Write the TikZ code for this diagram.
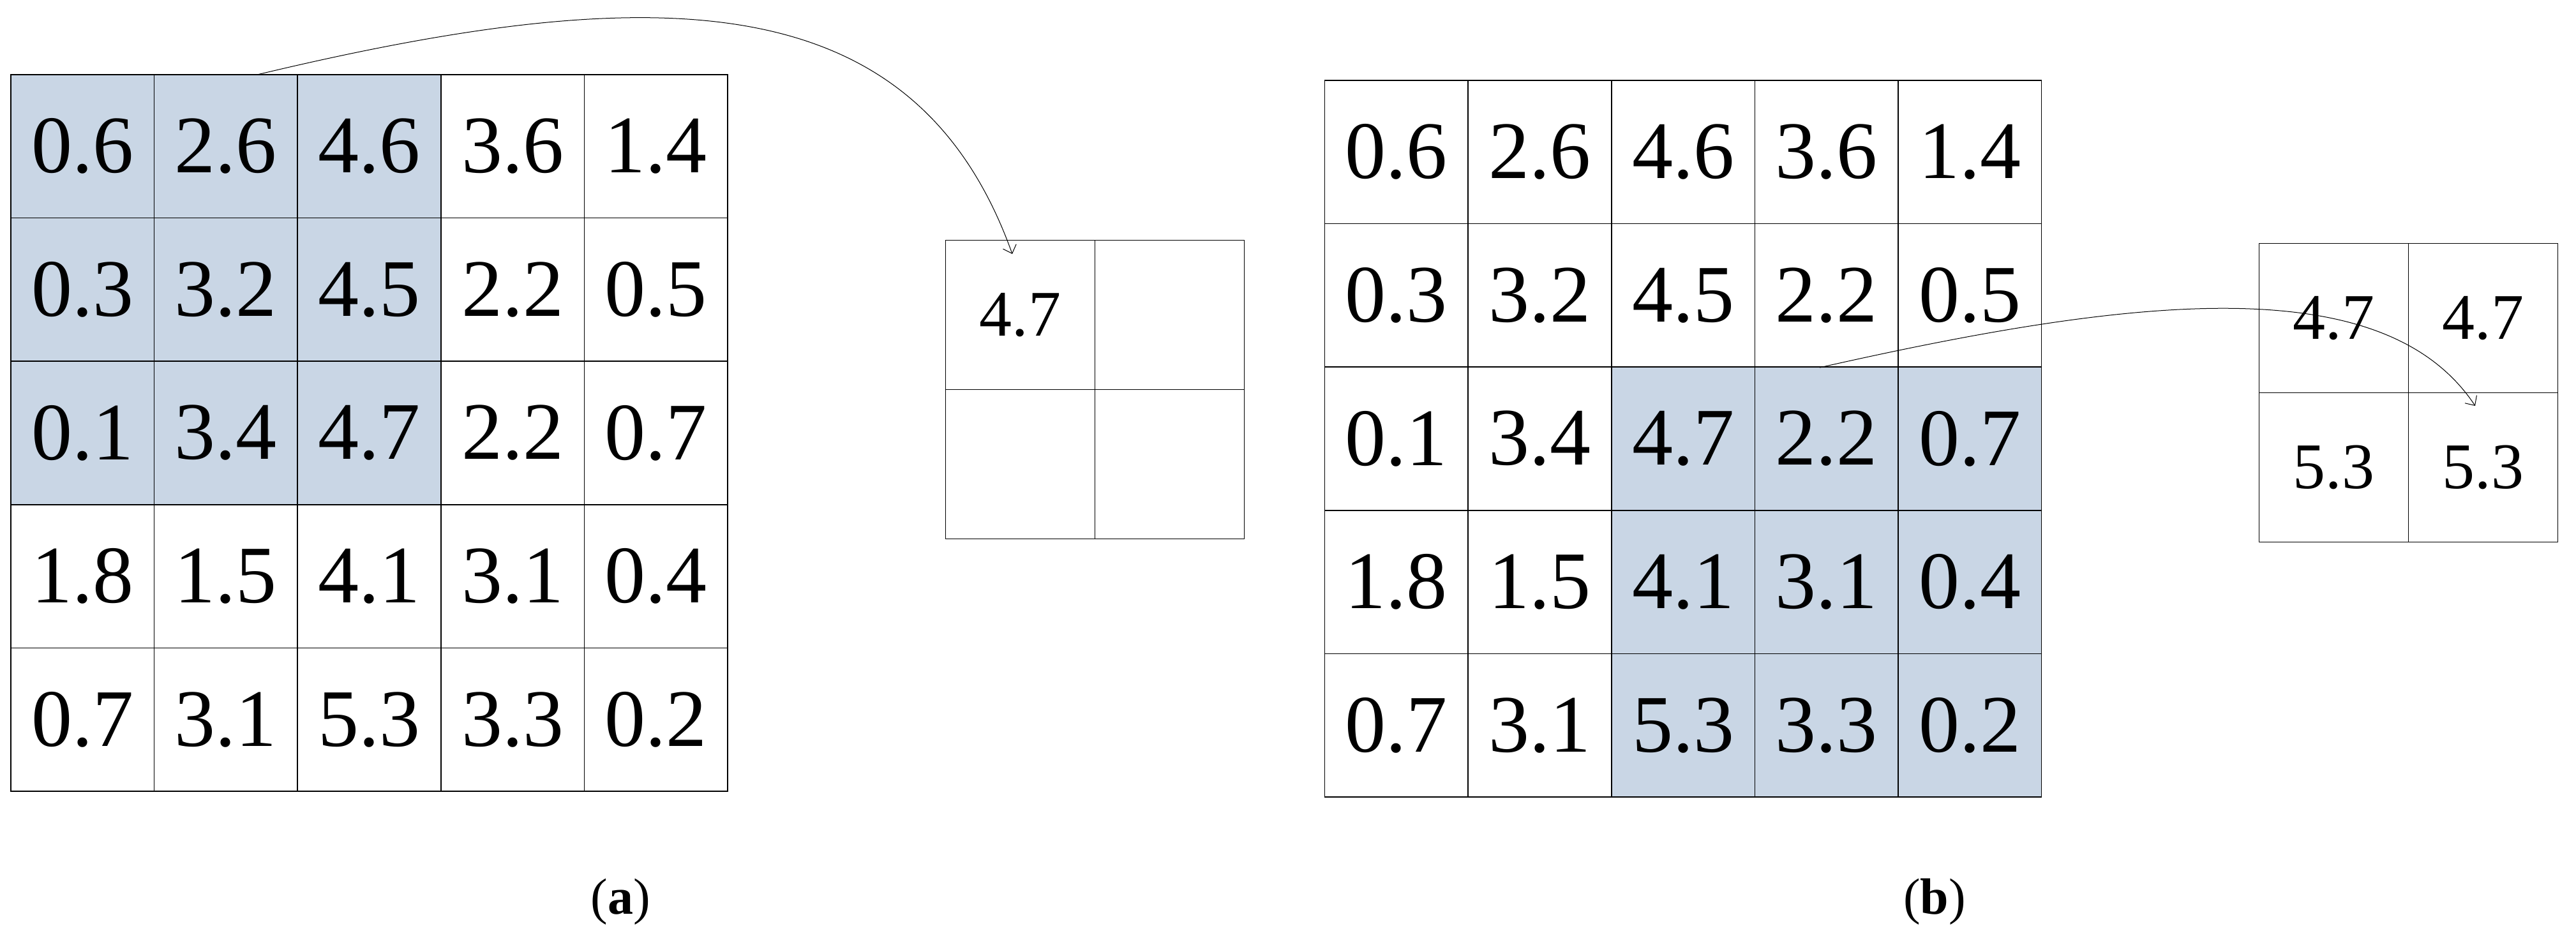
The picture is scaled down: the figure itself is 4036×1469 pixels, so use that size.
\documentclass[tikz,border=0pt]{standalone}
\usepackage{fontspec}
\setmainfont{Liberation Serif}
\usetikzlibrary{arrows.meta}
\definecolor{winfill}{RGB}{201,214,229}
\tikzset{
  bigcell/.style={draw=black, line width=0.4pt, minimum width=56.15pt, minimum height=56.15pt,
    inner sep=0pt, outer sep=0pt, font=\fontsize{32}{36}\selectfont},
  smallcell/.style={draw=black, line width=0.4pt, minimum width=58.5pt, minimum height=58.5pt,
    inner sep=0pt, outer sep=0pt, font=\fontsize{25.5}{30}\selectfont},
  caption/.style={inner sep=0pt, font=\fontsize{20}{24}\selectfont},
  flow/.style={line width=0.25pt, -{Straight Barb[length=2.9pt,width=5.5pt]}}
}
\begin{document}
\begin{tikzpicture}[x=0.25pt, y=-0.25pt]
\useasboundingbox[fill=white] (0,0) rectangle (4036,1469);
% shaded windows
\fill[winfill] (17,117) rectangle (690.8,790.8);
\fill[winfill] (2524.7,575.2) rectangle (3198.5,1249);
% big grids
\foreach \r [count=\i] in {{0.6,2.6,4.6,3.6,1.4},{0.3,3.2,4.5,2.2,0.5},{0.1,3.4,4.7,2.2,0.7},{1.8,1.5,4.1,3.1,0.4},{0.7,3.1,5.3,3.3,0.2}}{
  \foreach \v [count=\j] in \r {
    \node[bigcell] (A-\i-\j) at ({17+224.6*(\j-0.5)},{117+224.6*(\i-0.5)}) {\v};
    \node[bigcell] (B-\i-\j) at ({2075.5+224.6*(\j-0.5)},{126+224.6*(\i-0.5)}) {\v};
  }
}
% small grids
\node[smallcell] (a-1-1) at ({1481.5+234*0.5},{376.5+234*0.5}) {4.7};
\node[smallcell] (a-1-2) at ({1481.5+234*1.5},{376.5+234*0.5}) {};
\node[smallcell] (a-2-1) at ({1481.5+234*0.5},{376.5+234*1.5}) {};
\node[smallcell] (a-2-2) at ({1481.5+234*1.5},{376.5+234*1.5}) {};
\node[smallcell] (b-1-1) at ({3539.5+234*0.5},{381.5+234*0.5}) {4.7};
\node[smallcell] (b-1-2) at ({3539.5+234*1.5},{381.5+234*0.5}) {4.7};
\node[smallcell] (b-2-1) at ({3539.5+234*0.5},{381.5+234*1.5}) {5.3};
\node[smallcell] (b-2-2) at ({3539.5+234*1.5},{381.5+234*1.5}) {5.3};
% connectors
\coordinate (sA) at (403,117);
\coordinate (eA) at (1586,398);
\coordinate (sB) at (2851,576);
\coordinate (eB) at (3878,636);
\draw[flow] (sA) .. controls (1034,-34) and (1434,-26) .. (eA);
\draw[flow] (sB) .. controls (3338,466) and (3734,419) .. (eB);
% captions
\node[caption] (capA) at (972,1413) {(\textbf{a})};
\node[caption] (capB) at (3031,1413) {(\textbf{b})};
\end{tikzpicture}
\end{document}
